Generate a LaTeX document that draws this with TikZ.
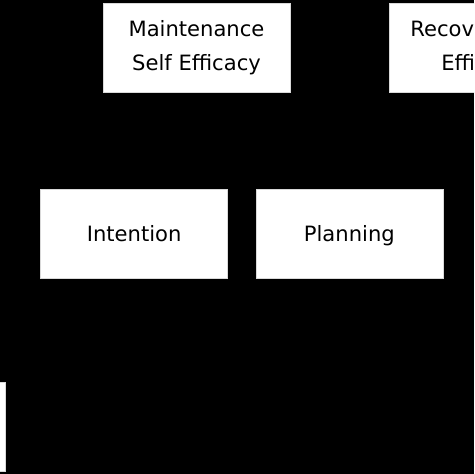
\documentclass[tikz,border=0pt]{standalone}
\usepackage{fontspec}
\setmainfont{DejaVu Sans}
\usetikzlibrary{arrows, positioning}

\begin{document}
\begin{tikzpicture}[
        block/.style={draw=black!15, fill=white, minimum width=6.23cm, minimum height=2.97cm,
            inner sep=0pt, align=center, font=\fontsize{20}{32}\selectfont},
        single/.style={block, text height=0.71cm, text depth=0.17cm}
    ]
                    \useasboundingbox (0, 0) rectangle (15.8, -15.8);
                    \fill[black] (0, 0) rectangle (15.8, -15.8);
                    \clip (0, 0) rectangle (15.8, -15.8);

                    \node[block] (maintenance) at (6.55, -1.58) {Maintenance\\Self Efficacy};
                    \node[block] (recovery) at (16.08, -1.58) {Recovery Self\\Efficacy};

                    \node[single] (intention) at (4.47, -7.78) {Intention};
                    \node[single, right=0.93cm of intention] (planning) {Planning};

                    \node[block] (behaviour) at (-2.95, -14.22) {};

                    \draw[->, >=stealth, thick]
                    (intention) -- (planning);
\end{tikzpicture}
\end{document}
